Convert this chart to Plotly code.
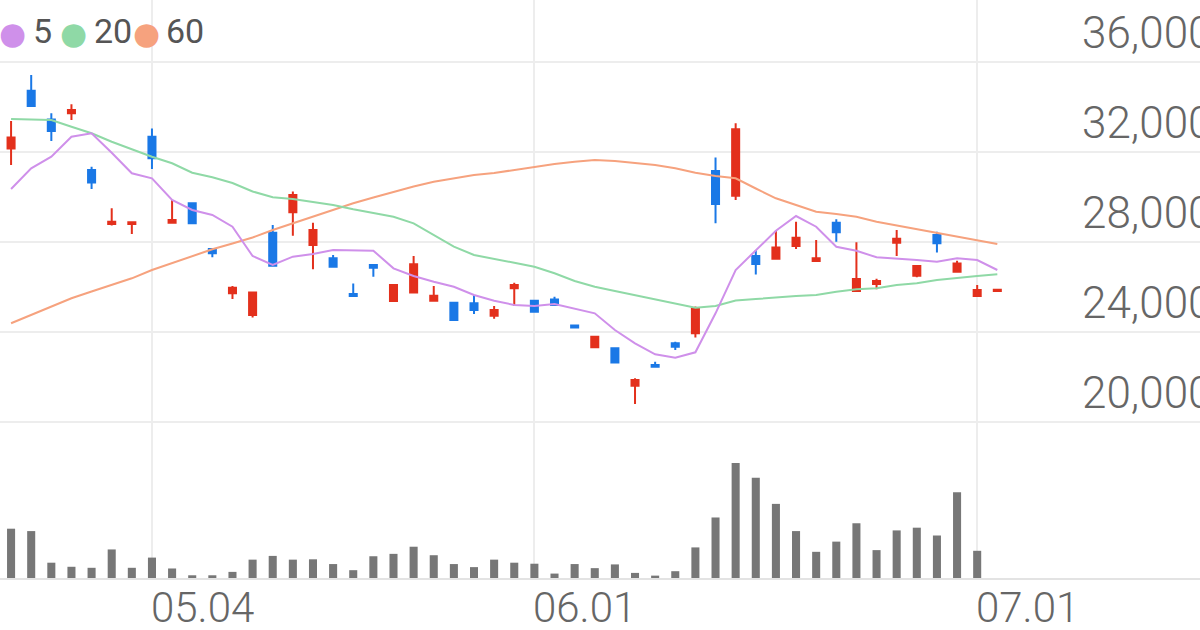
import plotly.graph_objects as go

# trading days (MM.DD)
dates = [
    "04.21", "04.22", "04.23", "04.24", "04.27", "04.28", "04.29",
    "05.04", "05.06", "05.07", "05.08", "05.11", "05.12", "05.13", "05.14", "05.15",
    "05.18", "05.19", "05.20", "05.21", "05.22", "05.25", "05.26", "05.27", "05.28", "05.29",
    "06.01", "06.02", "06.03", "06.04", "06.05", "06.08", "06.09", "06.10", "06.11", "06.12",
    "06.15", "06.16", "06.17", "06.18", "06.19", "06.22", "06.23", "06.24", "06.25", "06.26",
    "06.29", "06.30", "07.01", "07.02",
]

open_ = [
    32160, 34720, 33450, 33720, 31200, 28800, 28800, 32680, 28860, 29720,
    27690, 25720, 24760, 28410, 29320, 27870, 27280, 25690, 26980, 25380,
    25760, 25390, 25300, 25280, 24720, 25940, 25390, 25450, 24290, 23320,
    23280, 21610, 22530, 23500, 23940, 31160, 30060, 27380, 27260, 27820,
    27160, 28860, 25820, 26130, 27970, 26500, 28310, 26680, 25600, 25820,
]
close = [
    32640, 34040, 32930, 33870, 30650, 28900, 28880, 31720, 28980, 28830,
    27500, 25970, 25760, 26950, 30090, 28530, 26900, 25600, 26860, 26090,
    27010, 25610, 24530, 24980, 24980, 26090, 24900, 25200, 24200, 23790,
    22640, 21870, 22460, 23350, 25050, 29690, 33010, 27020, 27760, 28190,
    27280, 28430, 26360, 26270, 28150, 26930, 27940, 27050, 25870, 25880,
]
high = [
    33380, 35420, 33720, 34120, 31350, 29500, 28880, 33050, 29870, 29760,
    27700, 26040, 25780, 28760, 30240, 28860, 27420, 26160, 26990, 26100,
    27380, 26040, 25330, 25640, 25160, 26190, 25400, 25570, 24300, 23830,
    23300, 21940, 22680, 23570, 25130, 31760, 33280, 27640, 28500, 28900,
    28090, 29010, 27990, 26370, 28530, 26950, 28460, 27170, 26090, 25880,
]
low = [
    31420, 34000, 32490, 33420, 30360, 28730, 28360, 31240, 28860, 28800,
    27320, 25470, 24650, 26950, 28280, 26790, 26900, 25600, 26460, 25370,
    25760, 25390, 24530, 24800, 24590, 25160, 24900, 25200, 24190, 23320,
    22640, 20800, 22460, 23200, 23760, 28830, 29870, 26560, 27260, 27690,
    27160, 28010, 25820, 25900, 27380, 26430, 27530, 26680, 25600, 25820,
]

# moving averages as drawn
ma5 = [
    30356, 31276, 31791, 32680, 32831, 31969, 31054, 30831, 29867, 29422,
    29200, 28680, 27378, 26978, 27347, 27467, 27644, 27644, 27613, 26831,
    26489, 26236, 26013, 25644, 25391, 25200, 25156, 25244, 25053, 24831,
    24089, 23498, 23009, 22858, 23098, 24831, 26756, 27644, 28503, 29156,
    28680, 27791, 27613, 27320, 27276, 27200, 27125, 27276, 27200, 26756,
]
ma20 = [
    33467, 33453, 33422, 33125, 32831, 32458, 32120, 31791, 31498, 31080,
    30876, 30622, 30245, 29987, 29911, 29765, 29645, 29454, 29303, 29125,
    28831, 28311, 27791, 27422, 27267, 27080, 26902, 26609, 26267, 26013,
    25822, 25644, 25467, 25276, 25080, 25156, 25400, 25467, 25542, 25600,
    25644, 25791, 25898, 25942, 26089, 26165, 26311, 26413, 26489, 26565,
]
ma60 = [
    24388, 24756, 25134, 25498, 25800, 26089, 26387, 26756, 27067, 27378,
    27676, 27934, 28200, 28533, 28831, 29125, 29422, 29720, 29978, 30236,
    30467, 30680, 30831, 30978, 31067, 31200, 31347, 31467, 31569, 31644,
    31600, 31524, 31422, 31276, 31080, 30933, 30831, 30378, 29942, 29644,
    29347, 29244, 29125, 28903, 28734, 28578, 28413, 28244, 28076, 27911,
]

# volume, thousand shares
volume = [
    145, 138, 45, 33, 30, 84, 30, 60, 28, 8,
    8, 18, 54, 65, 54, 55, 41, 23, 64, 71,
    92, 67, 41, 32, 54, 45, 42, 13, 41, 29,
    40, 15, 7, 20, 90, 178, 338, 295, 218, 138,
    77, 107, 161, 82, 140, 148, 125, 252, 80, 0,
]

price_ticks = [20000, 24000, 28000, 32000, 36000]
date_ticks = ["05.04", "06.01", "07.01"]
ma_names = ["5", "20", "60"]

RED = "#e3301c"
BLUE = "#1a78e6"
MA_COLORS = ["#cf90ea", "#8fd9a6", "#f6a27e"]
GRID = "#ededed"
TEXT = "#666666"
FONT = "Roboto"
W, H = 1200, 630

fig = go.Figure()

fig.add_trace(go.Bar(
    x=dates, y=volume, yaxis="y2", marker_color="#777777",
    marker_line_width=0, hoverinfo="skip",
))

for vals, color in zip([ma60, ma20, ma5], MA_COLORS[::-1]):
    fig.add_trace(go.Scatter(
        x=dates, y=vals, mode="lines", line=dict(color=color, width=2),
        hoverinfo="skip",
    ))

fig.add_trace(go.Candlestick(
    x=dates, open=open_, high=high, low=low, close=close,
    increasing=dict(line=dict(color=RED, width=2), fillcolor=RED),
    decreasing=dict(line=dict(color=BLUE, width=2), fillcolor=BLUE),
    whiskerwidth=0, hoverinfo="skip",
))

annotations = []
for v in price_ticks:
    annotations.append(dict(
        x=1080 / W, xref="paper", xanchor="left", y=v, yref="y", yanchor="bottom",
        yshift=1, text=f"{v:,}", showarrow=False,
        font=dict(family=FONT, size=44, color=TEXT, weight=300),
    ))
for d in date_ticks:
    annotations.append(dict(
        x=dates.index(d), xref="x", xanchor="left", xshift=-3, y=52 / H, yref="paper",
        yanchor="top", yshift=-3, text=d, showarrow=False,
        font=dict(family=FONT, size=42, color=TEXT, weight=300),
    ))

# legend: coloured dot + period label
legend_dot_x = [12, 73, 146]
legend_txt_x = [31, 92, 164]
for name, color, dx, tx in zip(ma_names, MA_COLORS, legend_dot_x, legend_txt_x):
    annotations.append(dict(
        x=dx / W, xref="paper", xanchor="center", y=1 - 33 / H, yref="paper",
        yanchor="middle", text="●", showarrow=False,
        font=dict(family="DejaVu Sans", size=31, color=color),
    ))
    annotations.append(dict(
        x=tx / W, xref="paper", xanchor="left", y=1 - 31 / H, yref="paper",
        yanchor="middle", text=name, showarrow=False,
        font=dict(family=FONT, size=34, color="#555555"),
    ))

fig.update_layout(
    width=W, height=H,
    margin=dict(l=0, r=0, t=0, b=0),
    paper_bgcolor="white", plot_bgcolor="white",
    showlegend=False, bargap=0.6, boxgap=0.5,
    xaxis=dict(
        type="category", range=[-0.55, 59.07],
        tickvals=date_ticks, showticklabels=False,
        showgrid=True, gridcolor=GRID, gridwidth=2,
        showline=True, linecolor="#e3e3e3", linewidth=2,
        rangeslider=dict(visible=False), fixedrange=True,
    ),
    yaxis=dict(
        domain=[52 / H, 1], range=[13067, 38756],
        tickvals=price_ticks, showticklabels=False,
        showgrid=True, gridcolor=GRID, gridwidth=2, zeroline=False,
        fixedrange=True,
    ),
    yaxis2=dict(
        domain=[52 / H, 1], range=[0, 1700], overlaying="y",
        showgrid=False, showticklabels=False, zeroline=False,
        fixedrange=True,
    ),
    annotations=annotations,
)

fig.write_html(
    "out.html",
    config={"displayModeBar": False},
    post_script="document.body.style.margin='0';",
)
